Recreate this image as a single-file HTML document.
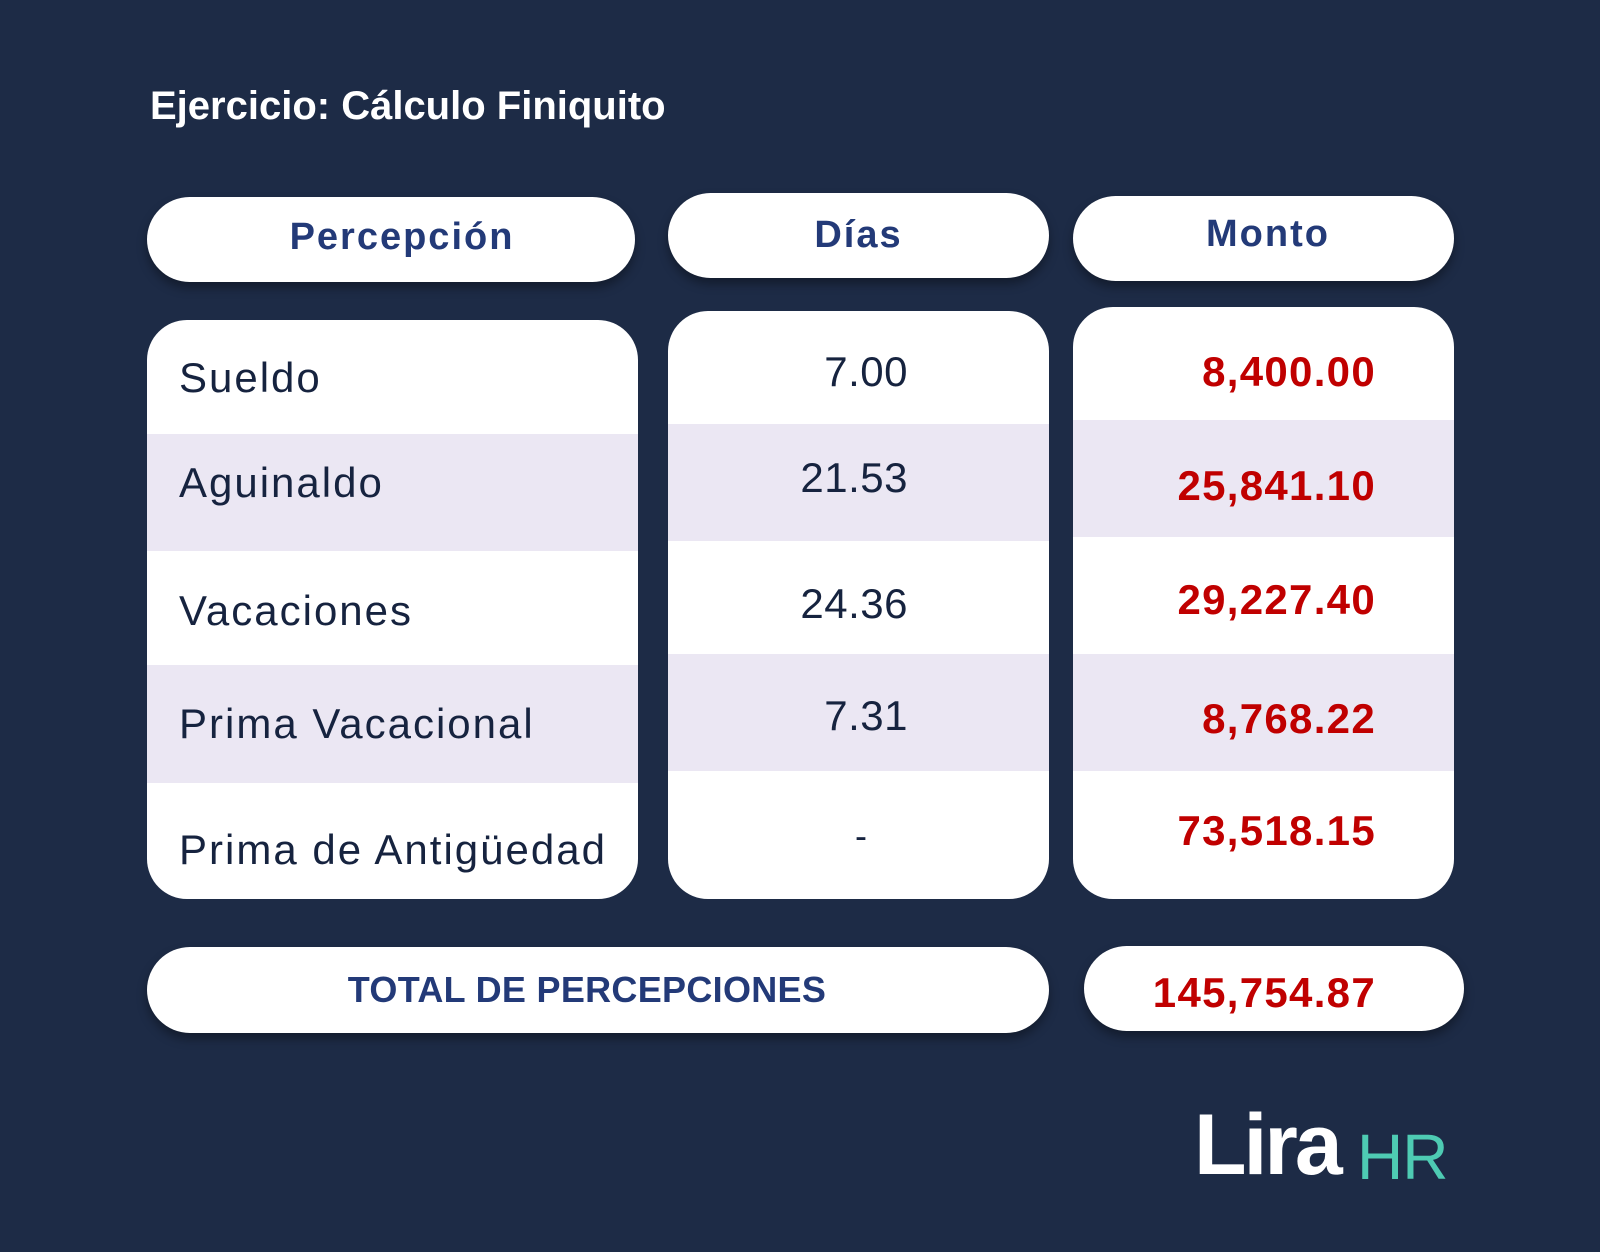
<!DOCTYPE html>
<html><head><meta charset="utf-8"><style>
*{margin:0;padding:0;box-sizing:border-box}
body{width:1600px;height:1252px;background:#1d2b46;position:relative;overflow:hidden;font-family:"Liberation Sans","DejaVu Sans",sans-serif}
.a{position:absolute}
.pill{position:absolute;background:#fff;border-radius:46px;box-shadow:0 6px 10px rgba(0,0,0,.35)}
.card{position:absolute;background:#fff;border-radius:40px;overflow:hidden}
.band{position:absolute;left:0;right:0;background:#ebe7f3}
.h{position:absolute;font-weight:bold;color:#233a78;font-size:38px;line-height:1;white-space:nowrap;letter-spacing:2px}
.l{position:absolute;left:179px;color:#16233f;font-size:42px;line-height:1;white-space:nowrap;letter-spacing:2px}
.m{position:absolute;right:692px;color:#16233f;font-size:42px;line-height:1;text-align:right;white-space:nowrap;letter-spacing:0.5px}
.r{position:absolute;right:224px;color:#c00000;font-size:42px;font-weight:bold;line-height:1;text-align:right;white-space:nowrap;letter-spacing:1.3px}
</style></head><body>
<div class="a" style="left:150px;top:84px;color:#fff;font-weight:bold;font-size:40px">Ejercicio: Cálculo Finiquito</div>

<div class="pill" style="left:147px;top:197px;width:488px;height:85px"></div>
<div class="pill" style="left:668px;top:193px;width:381px;height:85px"></div>
<div class="pill" style="left:1073px;top:196px;width:381px;height:85px"></div>
<div class="h" style="left:147px;width:510px;text-align:center;top:218px">Percepción</div>
<div class="h" style="left:668px;width:381px;text-align:center;top:216px">Días</div>
<div class="h" style="left:1073px;width:390px;text-align:center;top:215px">Monto</div>

<div class="card" style="left:147px;top:320px;width:491px;height:579px">
 <div class="band" style="top:114px;height:117px"></div>
 <div class="band" style="top:345px;height:118px"></div>
</div>
<div class="card" style="left:668px;top:311px;width:381px;height:588px">
 <div class="band" style="top:113px;height:117px"></div>
 <div class="band" style="top:343px;height:117px"></div>
</div>
<div class="card" style="left:1073px;top:307px;width:381px;height:592px">
 <div class="band" style="top:113px;height:117px"></div>
 <div class="band" style="top:347px;height:117px"></div>
</div>

<div class="l" style="top:357px">Sueldo</div>
<div class="l" style="top:462px">Aguinaldo</div>
<div class="l" style="top:590px">Vacaciones</div>
<div class="l" style="top:703px">Prima Vacacional</div>
<div class="l" style="top:829px">Prima de Antigüedad</div>

<div class="m" style="top:351px">7.00</div>
<div class="m" style="top:457px">21.53</div>
<div class="m" style="top:583px">24.36</div>
<div class="m" style="top:695px">7.31</div>
<div class="a" style="left:855px;top:815px;color:#16233f;font-size:36px">-</div>

<div class="r" style="top:351px">8,400.00</div>
<div class="r" style="top:465px">25,841.10</div>
<div class="r" style="top:579px">29,227.40</div>
<div class="r" style="top:698px">8,768.22</div>
<div class="r" style="top:810px">73,518.15</div>

<div class="pill" style="left:147px;top:947px;width:902px;height:86px"></div>
<div class="pill" style="left:1084px;top:946px;width:380px;height:85px"></div>
<div class="h" style="left:147px;width:880px;text-align:center;top:972px;font-size:36px;letter-spacing:0.3px">TOTAL DE PERCEPCIONES</div>
<div class="r" style="top:972px">145,754.87</div>

<div class="a" style="left:1194px;top:1102px;color:#fff;font-weight:bold;font-size:86px;line-height:1;letter-spacing:-3px">Lira</div>
<div class="a" style="left:1357px;top:1125px;color:#4ecbb3;font-size:64px;line-height:1;letter-spacing:-1px">HR</div>
</body></html>
